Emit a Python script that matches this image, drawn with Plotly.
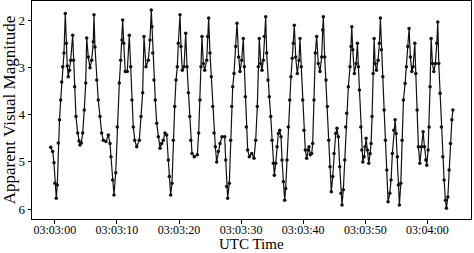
import pandas as pd
import plotly.graph_objects as go

# seconds after 03:03:00 UTC
t_sec = [
    -0.66, -0.34, -0.13, 0.03, 0.24, 0.40, 0.56, 0.76, 0.95, 1.11, 1.27, 1.48, 1.69, 1.85, 2.01, 2.17, 2.37, 2.56, 2.88, 3.01,
    3.20, 3.41, 3.69, 3.90, 4.06, 4.27, 4.49, 4.75, 4.98, 5.14, 5.39, 5.67, 5.94, 6.20, 6.31, 6.47, 6.75, 7.00, 7.28, 7.55,
    7.81, 8.24, 8.62, 8.89, 9.05, 9.32, 9.53, 9.81, 10.06, 10.39, 10.61, 10.82, 10.93, 11.10, 11.35, 11.67, 12.00, 12.22, 12.43, 12.64,
    12.87, 13.19, 13.61, 13.88, 14.15, 14.36, 14.69, 15.06, 15.33, 15.54, 15.65, 15.77, 15.97, 16.18, 16.41, 16.67, 16.94, 17.21, 17.47, 17.74,
    18.02, 18.28, 18.44, 18.66, 18.87, 19.08, 19.31, 19.52, 19.73, 19.89, 20.16, 20.32, 20.53, 20.81, 21.08, 21.29, 21.51, 21.73, 21.89, 22.09,
    22.46, 22.95, 23.17, 23.38, 23.54, 23.70, 23.91, 24.14, 24.46, 24.62, 24.78, 24.99, 25.20, 25.43, 25.64, 25.85, 26.07, 26.33, 26.60, 26.92,
    27.36, 27.52, 27.68, 27.84, 28.10, 28.32, 28.49, 28.65, 28.86, 29.13, 29.34, 29.61, 29.82, 30.10, 30.35, 30.52, 30.68, 30.84, 31.06, 31.32,
    31.71, 32.08, 32.35, 32.61, 32.77, 32.93, 33.16, 33.37, 33.58, 33.74, 33.96, 34.12, 34.33, 34.54, 34.77, 34.98, 35.19, 35.35, 35.57, 35.79,
    36.00, 36.22, 36.43, 36.59, 36.80, 37.02, 37.18, 37.39, 37.60, 37.83, 38.03, 38.24, 38.41, 38.57, 38.79, 39.05, 39.32, 39.48, 39.69, 39.92,
    40.13, 40.34, 40.56, 40.77, 40.93, 41.14, 41.37, 41.53, 41.74, 41.95, 42.17, 42.43, 42.70, 42.98, 43.14, 43.24, 43.46, 43.67, 43.88, 44.11,
    44.32, 44.53, 44.75, 44.96, 45.23, 45.44, 45.65, 45.88, 46.09, 46.25, 46.46, 46.69, 46.85, 47.01, 47.27, 47.54, 47.71, 47.82, 47.98, 48.24,
    48.52, 48.73, 48.89, 49.05, 49.28, 49.44, 49.60, 49.81, 49.97, 50.13, 50.34, 50.56, 50.77, 50.93, 51.09, 51.26, 51.42, 51.58, 51.79, 52.06,
    52.27, 52.43, 52.59, 52.82, 53.03, 53.24, 53.46, 53.67, 53.95, 54.15, 54.36, 54.59, 54.80, 54.96, 55.17, 55.33, 55.49, 55.72, 55.93, 56.14,
    56.41, 56.62, 56.84, 57.05, 57.26, 57.49, 57.70, 57.97, 58.13, 58.34, 58.55, 58.78, 59.04, 59.31, 59.52, 59.74, 59.90, 60.11, 60.27, 60.43,
    60.60, 60.81, 61.03, 61.29, 61.51, 61.67, 61.83, 62.04, 62.25, 62.48, 62.69, 62.90, 63.06, 63.29, 63.50, 63.71, 63.94, 64.10,
]

magnitude = [
    4.69, 4.78, 5.02, 5.45, 5.77, 5.49, 4.60, 4.11, 3.69, 3.31, 2.99, 2.70, 1.86, 2.49, 2.97, 3.20, 3.06, 2.85, 2.32, 2.85,
    3.41, 4.04, 4.39, 4.56, 4.64, 4.60, 4.39, 3.90, 3.33, 2.38, 2.78, 3.01, 2.85, 2.46, 1.89, 2.57, 3.27, 3.69, 4.04, 4.39,
    4.54, 4.57, 4.43, 4.61, 4.89, 5.38, 5.70, 5.23, 4.26, 3.33, 2.85, 2.42, 2.00, 2.49, 3.09, 3.09, 2.32, 2.99, 3.69, 4.26,
    4.54, 4.68, 4.54, 4.04, 3.54, 2.35, 2.99, 2.85, 2.42, 1.79, 2.14, 2.70, 3.27, 3.69, 4.18, 4.47, 4.71, 4.61, 4.54, 4.39,
    4.43, 4.96, 5.31, 5.70, 5.45, 4.54, 3.83, 3.27, 2.99, 2.49, 1.89, 2.56, 3.06, 2.99, 2.28, 2.99, 3.54, 4.04, 4.54, 4.82,
    4.89, 4.85, 4.39, 3.69, 2.99, 2.35, 2.92, 3.06, 2.85, 2.35, 1.96, 2.70, 3.20, 3.83, 4.39, 4.68, 5.00, 4.78, 4.61, 4.47,
    4.47, 4.96, 5.52, 5.77, 5.45, 4.54, 3.83, 3.41, 3.13, 2.56, 2.07, 2.78, 3.09, 2.85, 2.39, 2.99, 3.62, 4.26, 4.75, 4.89,
    4.82, 4.92, 4.54, 3.83, 2.99, 2.39, 2.92, 3.06, 2.85, 2.35, 1.93, 2.70, 3.27, 3.62, 4.04, 4.54, 5.03, 5.28, 5.03, 4.68,
    4.40, 4.33, 4.47, 4.96, 5.42, 5.81, 5.56, 4.96, 4.26, 3.69, 3.20, 2.81, 2.49, 2.11, 2.78, 3.13, 2.85, 2.39, 2.99, 3.69,
    4.33, 4.75, 4.92, 4.75, 4.68, 4.85, 4.82, 4.61, 3.69, 2.70, 2.35, 2.92, 3.09, 2.78, 2.21, 1.93, 2.78, 3.27, 3.83, 4.54,
    5.10, 5.63, 5.31, 4.82, 4.40, 4.29, 4.47, 5.10, 5.66, 5.91, 5.59, 4.96, 4.26, 3.97, 3.41, 2.99, 2.56, 2.14, 2.63, 3.13,
    2.92, 2.49, 2.99, 3.48, 4.26, 4.75, 5.00, 4.89, 4.68, 4.50, 4.75, 5.03, 4.82, 4.61, 4.04, 3.13, 2.39, 2.92, 3.06, 2.85,
    2.49, 1.96, 2.63, 3.20, 3.90, 4.54, 5.17, 5.84, 5.66, 5.38, 4.82, 4.33, 4.11, 4.40, 4.89, 5.49, 5.91, 5.45, 4.54, 3.69,
    3.34, 2.99, 2.56, 2.18, 2.78, 3.09, 2.99, 2.49, 3.13, 3.90, 4.68, 5.03, 4.68, 4.36, 4.68, 4.96, 5.07, 4.75, 4.26, 3.41,
    2.39, 2.92, 3.09, 2.92, 2.49, 2.04, 2.92, 3.55, 4.26, 4.89, 5.38, 5.81, 5.98, 5.74, 5.17, 4.61, 4.11, 3.90,
]

y_ticks = [2, 3, 4, 5, 6]
base_time = "2000-01-01 03:03:00"
x_start = "2000-01-01 03:02:56.33"
x_end = "2000-01-01 03:04:07.02"

times = pd.Timestamp(base_time) + pd.to_timedelta(t_sec, unit="s")

font_family = "Liberation Serif, Times New Roman, serif"

fig = go.Figure()
fig.add_trace(go.Scatter(
    x=times, y=magnitude, mode="lines+markers",
    line=dict(color="#111111", width=1.2),
    marker=dict(color="#111111", size=3.5, symbol="circle"),
    showlegend=False,
))

fig.update_layout(
    width=474, height=253,
    margin=dict(l=32, r=3, t=1, b=34),
    paper_bgcolor="white", plot_bgcolor="white",
    font=dict(family=font_family, color="black", size=12),
    xaxis=dict(
        range=[x_start, x_end],
        tickformat="%H:%M:%S",
        tick0=base_time, dtick=10000,
        ticks="outside", ticklen=3.5, tickwidth=1, tickcolor="black",
        ticklabelstandoff=-4,
        showline=True, linecolor="black", linewidth=1, mirror=True,
        showgrid=False, zeroline=False,
        tickfont=dict(family=font_family, size=12),
    ),
    yaxis=dict(
        range=[6.207, 1.598],
        tickvals=y_ticks, ticktext=[str(v) for v in y_ticks],
        ticks="outside", ticklen=3.5, tickwidth=1, tickcolor="black",
        showline=True, linecolor="black", linewidth=1, mirror=True,
        showgrid=False, zeroline=False,
        tickfont=dict(family=font_family, size=13),
        title=dict(text="Apparent Visual Magnitude", font=dict(family=font_family, size=17), standoff=4),
    ),
    annotations=[dict(
        text="UTC Time", xref="paper", yref="paper",
        x=0.5, y=-0.158, xanchor="center", yanchor="bottom",
        borderpad=0,
        showarrow=False, font=dict(family=font_family, size=15, color="black"),
    )],
)

fig.write_html("out.html")
